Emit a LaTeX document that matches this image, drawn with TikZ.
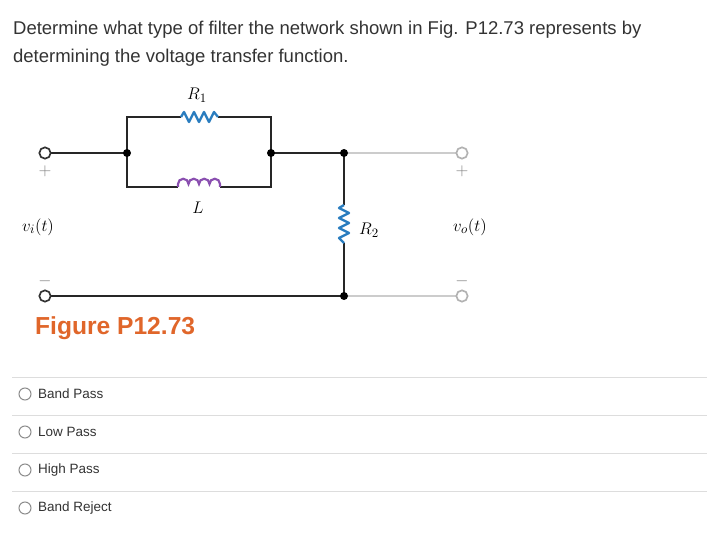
\documentclass[tikz,border=0pt]{standalone}
\usepackage{fontspec}
\newfontfamily\uisans{Liberation Sans}
\definecolor{txtgray}{HTML}{333333}
\definecolor{resblue}{HTML}{2A7DBF}
\definecolor{indpurple}{HTML}{8A4FB0}
\definecolor{figorange}{HTML}{E0662A}
\definecolor{sepgray}{HTML}{DDDDDD}
\tikzset{
  wire/.style={line width=0.85mm, black!85},
  outwire/.style={line width=0.85mm, black!20},
  dot/.style={circle, fill=black, inner sep=0pt, minimum size=2.4mm},
  term/.style={circle, draw=black!80, line width=0.5mm, fill=white, inner sep=0pt, minimum size=3.4mm},
  oterm/.style={term, draw=black!30},
  lbl/.style={font=\fontsize{15}{15}\selectfont\itshape},
  radio/.style={circle, draw=black!45, line width=0.3mm, inner sep=0pt, minimum size=3.6mm},
  opt/.style={anchor=west, font=\uisans\fontsize{11.5}{11.5}\selectfont, text=txtgray}
}
\begin{document}
\begin{tikzpicture}[x=0.03cm, y=-0.03cm]
    \useasboundingbox (0,0) rectangle (707,541);
    % Question
    \node[anchor=west, font=\uisans\fontsize{15.8}{15.8}\selectfont, text=txtgray] (q1) at (9,30)
      {Determine what type of filter the network shown in Fig. P12.73 represents by};
    \node[anchor=west, font=\uisans\fontsize{15.8}{15.8}\selectfont, text=txtgray] (q2) at (9,58)
      {determining the voltage transfer function.};
    % Points
    \coordinate (a) at (127,153);
    \coordinate (b) at (271,153);
    \coordinate (c) at (344,153);
    \coordinate (d) at (344,296);
    \coordinate (tl) at (127,117);
    \coordinate (tr) at (271,117);
    \coordinate (bl) at (127,187);
    \coordinate (br) at (271,187);
    % Wires
    \draw[wire] (45,153) -- (a) -- (tl) -- (181,117);
    \draw[wire] (218,117) -- (tr) -- (b) -- (c) -- (344,205);
    \draw[wire] (a) -- (bl) -- (178,187);
    \draw[wire] (220,187) -- (br) -- (b);
    \draw[wire] (344,243) -- (d) -- (45,296);
    \draw[outwire] (c) -- (462,153);
    \draw[outwire] (d) -- (462,296);
    % R1
    \draw[resblue, line width=0.7mm, line join=round] (181,117) -- (184,112) -- (189,122) -- (194,112)
      -- (199,122) -- (204,112) -- (209,122) -- (214,112) -- (218,117);
    % L
    \draw[indpurple, line width=0.65mm] (178,187) -- (178,184)
      arc[start angle=180, end angle=360, radius=5.25] arc[start angle=180, end angle=360, radius=5.25]
      arc[start angle=180, end angle=360, radius=5.25] arc[start angle=180, end angle=360, radius=5.25] -- (220,187);
    % R2
    \draw[resblue, line width=0.7mm, line join=round] (344,205) -- (339,208) -- (349,213) -- (339,218)
      -- (349,223) -- (339,228) -- (349,233) -- (339,238) -- (344,243);
    % Junctions and terminals
    \foreach \p in {a,b,c,d} \node[dot] at (\p) {};
    \node[term] (vip) at (45,153) {};
    \node[term] (vim) at (45,296) {};
    \node[oterm] (vop) at (462,153) {};
    \node[oterm] (vom) at (462,296) {};
    % Labels
    \node[lbl] (r1) at (197,95) {$R_1$};
    \node[lbl] (ll) at (198,208) {$L$};
    \node[lbl] (r2) at (369,230) {$R_2$};
    \node[lbl] (vi) at (38,227) {$v_i(t)$};
    \node[lbl] (vo) at (470,227) {$v_o(t)$};
    \node[text=black!50, font=\Large] at (45,171) {$+$};
    \node[text=black!50, font=\Large] at (462,171) {$+$};
    \node[text=black!50, font=\Large] at (45,281) {$-$};
    \node[text=black!50, font=\Large] at (462,281) {$-$};
    \node[anchor=west, text=figorange, font=\uisans\bfseries\fontsize{21}{21}\selectfont] (fig) at (31,328) {Figure P12.73};
    % Options
    \foreach \y/\t in {394/Band Pass, 432/Low Pass, 470/High Pass, 508/Band Reject} {
      \draw[sepgray, line width=0.3mm] (12,\y-17) -- (707,\y-17);
      \node[radio] at (25,\y) {};
      \node[opt] at (34,\y) {\t};
    }
\end{tikzpicture}
\end{document}
